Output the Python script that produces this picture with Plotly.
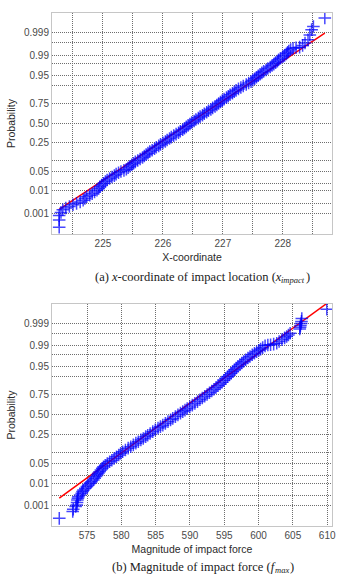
from statistics import NormalDist
import plotly.graph_objects as go

# ---------------------------------------------------------------------------
# Data: sorted samples and their normal-quantile plotting positions
# ---------------------------------------------------------------------------
# (a) x-coordinate of impact location
x_impact = [224.27, 224.27, 224.27, 224.30, 224.33, 224.38, 224.44, 224.50, 224.56, 224.62,
            224.67, 224.70, 224.73, 224.78, 224.82, 224.86, 224.90, 224.93, 224.95, 224.98,
            225.01, 225.04, 225.07, 225.11, 225.15, 225.19, 225.22, 225.26, 225.30, 225.35,
            225.39, 225.42, 225.45, 225.48, 225.51, 225.54, 225.58, 225.62, 225.66, 225.69,
            225.72, 225.75, 225.78, 225.82, 225.86, 225.89, 225.93, 225.96, 226.00, 226.04,
            226.07, 226.11, 226.14, 226.18, 226.22, 226.26, 226.29, 226.33, 226.36, 226.39,
            226.42, 226.45, 226.48, 226.52, 226.55, 226.59, 226.62, 226.66, 226.69, 226.73,
            226.76, 226.80, 226.83, 226.87, 226.90, 226.93, 226.96, 226.99, 227.02, 227.06,
            227.09, 227.12, 227.16, 227.19, 227.22, 227.26, 227.30, 227.34, 227.39, 227.43,
            227.47, 227.50, 227.53, 227.56, 227.59, 227.62, 227.65, 227.68, 227.72, 227.75,
            227.79, 227.82, 227.85, 227.88, 227.91, 227.93, 227.96, 228.00, 228.03, 228.06,
            228.08, 228.10, 228.13, 228.17, 228.22, 228.28, 228.33, 228.37, 228.42, 228.45,
            228.48, 228.51, 228.70]
q_impact = [-3.57, -3.32, -3.17, -3.06, -2.97, -2.91, -2.86, -2.80, -2.75, -2.70,
            -2.64, -2.58, -2.52, -2.47, -2.42, -2.36, -2.30, -2.24, -2.18, -2.12,
            -2.06, -2.00, -1.95, -1.90, -1.85, -1.80, -1.75, -1.70, -1.66, -1.62,
            -1.58, -1.53, -1.48, -1.43, -1.38, -1.33, -1.28, -1.23, -1.18, -1.13,
            -1.08, -1.03, -0.98, -0.93, -0.88, -0.83, -0.78, -0.73, -0.68, -0.63,
            -0.58, -0.53, -0.48, -0.43, -0.38, -0.33, -0.28, -0.23, -0.18, -0.13,
            -0.08, -0.03, 0.02, 0.07, 0.12, 0.17, 0.22, 0.27, 0.32, 0.37,
            0.42, 0.47, 0.52, 0.57, 0.62, 0.67, 0.72, 0.77, 0.82, 0.87,
            0.92, 0.97, 1.02, 1.07, 1.12, 1.17, 1.22, 1.27, 1.32, 1.37,
            1.42, 1.47, 1.52, 1.57, 1.62, 1.67, 1.72, 1.77, 1.82, 1.87,
            1.92, 1.97, 2.02, 2.07, 2.12, 2.17, 2.22, 2.27, 2.32, 2.37,
            2.42, 2.47, 2.52, 2.56, 2.58, 2.60, 2.66, 2.74, 2.85, 3.02,
            3.20, 3.31, 3.60]
fit_impact = {"mu": 226.44, "sigma": 0.7334}

# (b) magnitude of impact force
f_max = [570.96, 572.92, 573.00, 573.35, 573.50, 573.55, 573.60, 573.68, 573.75, 574.00,
         574.23, 574.35, 574.48, 574.75, 574.98, 575.20, 575.45, 575.65, 575.92, 576.12,
         576.32, 576.50, 576.65, 576.82, 577.02, 577.22, 577.40, 577.65, 577.95, 578.30,
         578.62, 578.95, 579.30, 579.62, 579.90, 580.20, 580.60, 581.00, 581.38, 581.75,
         582.12, 582.48, 582.85, 583.20, 583.55, 583.85, 584.20, 584.58, 584.95, 585.35,
         585.70, 586.05, 586.42, 586.80, 587.18, 587.50, 587.88, 588.25, 588.62, 588.95,
         589.28, 589.60, 589.98, 590.35, 590.72, 591.10, 591.45, 591.80, 592.15, 592.50,
         592.85, 593.18, 593.50, 593.80, 594.10, 594.40, 594.68, 594.95, 595.22, 595.50,
         595.75, 596.00, 596.25, 596.50, 596.75, 597.00, 597.28, 597.55, 597.82, 598.12,
         598.45, 598.75, 599.08, 599.40, 599.72, 600.05, 600.30, 600.60, 600.95, 601.35,
         601.75, 602.20, 602.65, 603.00, 603.40, 603.80, 604.10, 604.35, 604.60, 606.00,
         606.05, 606.10, 606.20, 606.25, 606.30, 609.94]
q_force = [-3.52, -3.29, -3.21, -3.12, -3.07, -2.98, -2.90, -2.84, -2.79, -2.73,
           -2.67, -2.61, -2.56, -2.50, -2.44, -2.39, -2.33, -2.28, -2.22, -2.16,
           -2.10, -2.04, -1.99, -1.94, -1.88, -1.82, -1.77, -1.72, -1.66, -1.60,
           -1.55, -1.49, -1.43, -1.37, -1.31, -1.26, -1.20, -1.14, -1.09, -1.03,
           -0.97, -0.92, -0.86, -0.81, -0.75, -0.70, -0.64, -0.58, -0.52, -0.46,
           -0.41, -0.36, -0.30, -0.24, -0.18, -0.13, -0.07, -0.01, 0.05, 0.10,
           0.15, 0.20, 0.26, 0.32, 0.38, 0.44, 0.50, 0.56, 0.62, 0.68,
           0.74, 0.80, 0.86, 0.92, 0.98, 1.04, 1.10, 1.16, 1.22, 1.28,
           1.34, 1.40, 1.46, 1.52, 1.58, 1.64, 1.70, 1.75, 1.80, 1.86,
           1.92, 1.97, 2.03, 2.08, 2.13, 2.18, 2.22, 2.27, 2.33, 2.36,
           2.37, 2.39, 2.42, 2.48, 2.54, 2.60, 2.65, 2.70, 2.76, 2.90,
           2.96, 3.02, 3.09, 3.16, 3.26, 3.57]
fit_force = {"mu": 587.7, "sigma": 5.9}

assert len(x_impact) == len(q_impact)
assert len(f_max) == len(q_force)

# Probability paper: labelled levels plus the intermediate grid levels
prob_major = [0.001, 0.01, 0.05, 0.25, 0.50, 0.75, 0.95, 0.99, 0.999]
prob_labels = ["0.001", "0.01", "0.05", "0.25", "0.50", "0.75", "0.95", "0.99", "0.999"]
prob_minor = [0.003, 0.02, 0.10, 0.90, 0.98, 0.997]

x_ticks_a = [225, 226, 227, 228]
x_minor_a = [224.5, 225.5, 226.5, 227.5, 228.5]
x_ticks_b = [575, 580, 585, 590, 595, 600, 605, 610]

# ---------------------------------------------------------------------------
W, H = 347, 586
nd = NormalDist()
major_z = [nd.inv_cdf(p) for p in prob_major]
minor_z = [nd.inv_cdf(p) for p in prob_minor]


def fx(px):
    return px / W


def fy(py):
    return 1 - py / H


SANS = "Liberation Sans, Arial, Helvetica, sans-serif"
SERIF = "Liberation Serif, Times New Roman, serif"
BLUE = "rgba(0,0,255,0.72)"
RED = "#ff0000"
GRID = "#6e6e6e"
DOTS = "1px,1px"

fig = go.Figure()


def add_panel(xs, qs, fit, xa, ya):
    lo, hi = min(xs), max(xs)
    fig.add_trace(go.Scatter(
        x=[lo, hi],
        y=[(lo - fit["mu"]) / fit["sigma"], (hi - fit["mu"]) / fit["sigma"]],
        mode="lines", line=dict(color=RED, width=1.5),
        xaxis=xa, yaxis=ya, showlegend=False, hoverinfo="skip"))
    fig.add_trace(go.Scatter(
        x=xs, y=qs, mode="markers",
        marker=dict(symbol="cross-thin", size=9,
                    line=dict(width=1.5, color=BLUE)),
        xaxis=xa, yaxis=ya, showlegend=False))


add_panel(x_impact, q_impact, fit_impact, "x", "y")
add_panel(f_max, q_force, fit_force, "x2", "y2")

title_font = dict(family=SANS, size=10.5, color="#2a2a2a")

axis_common = dict(
    showgrid=True, gridcolor=GRID, griddash=DOTS, gridwidth=1,
    showline=True, linecolor="#c6c6c6", linewidth=1, mirror=True,
    zeroline=False, ticks="", fixedrange=True, automargin=False,
    tickfont=dict(family=SANS, size=10, color="#4a4a4a"),
)


def minor_grid(vals):
    return dict(tickmode="array", tickvals=vals, showgrid=True,
                gridcolor=GRID, griddash=DOTS, gridwidth=1, ticks="")


def ytitle():
    return dict(text="Probability", font=title_font, standoff=6)


def xtitle(text):
    return dict(text=text, font=title_font, standoff=5)


xdom = [fx(52), fx(332)]
fig.update_layout(
    width=W, height=H, autosize=False,
    margin=dict(l=0, r=0, t=0, b=0),
    paper_bgcolor="white", plot_bgcolor="white",
    xaxis=dict(axis_common, domain=xdom, anchor="y", range=[224.15, 228.82],
               tickmode="array", tickvals=x_ticks_a,
               ticktext=[str(v) for v in x_ticks_a],
               minor=minor_grid(x_minor_a), title=xtitle("X-coordinate")),
    yaxis=dict(axis_common, domain=[fy(234), fy(13)], anchor="x", range=[-3.80, 3.77],
               tickmode="array", tickvals=major_z, ticktext=prob_labels,
               minor=minor_grid(minor_z), title=ytitle()),
    xaxis2=dict(axis_common, domain=xdom, anchor="y2", range=[569.9, 610.7],
                tickmode="array", tickvals=x_ticks_b,
                ticktext=[str(v) for v in x_ticks_b],
                title=xtitle("Magnitude of impact force")),
    yaxis2=dict(axis_common, domain=[fy(526), fy(304)], anchor="x2", range=[-3.78, 3.75],
                tickmode="array", tickvals=major_z, ticktext=prob_labels,
                minor=minor_grid(minor_z), title=ytitle()),
)

# Panel captions; the subscript is set as its own smaller, lowered text
cap_font = dict(family=SERIF, size=12.5, color="#1a1a1a")
sub_font = dict(family=SERIF, size=8.5, color="#1a1a1a")
annotations = [
    dict(text="(a) <i>x</i>-coordinate of impact location (<i>x</i>",
         x=fx(283), y=fy(277), font=cap_font, xanchor="right"),
    dict(text="<i>impact</i>", x=fx(280), y=fy(280), font=sub_font, xanchor="left"),
    dict(text=")", x=fx(305), y=fy(277), font=cap_font, xanchor="left"),
    dict(text="(b) Magnitude of impact force (<i>f</i>",
         x=fx(277), y=fy(567), font=cap_font, xanchor="right"),
    dict(text="<i>max</i>", x=fx(274), y=fy(570), font=sub_font, xanchor="left"),
    dict(text=")", x=fx(289), y=fy(567), font=cap_font, xanchor="left"),
]
for a in annotations:
    a.update(xref="paper", yref="paper", showarrow=False, yanchor="middle",
             borderpad=0)
fig.update_layout(annotations=annotations)

fig.write_html("out.html", config={"displayModeBar": False})
